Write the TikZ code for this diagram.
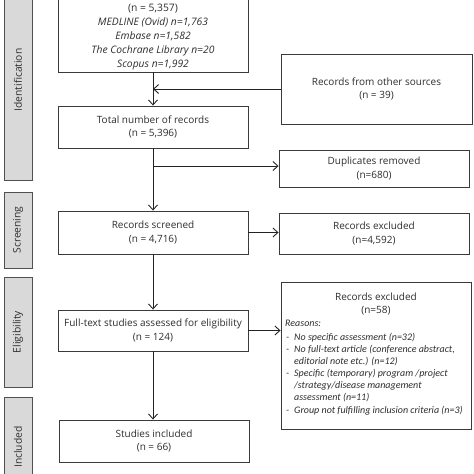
\documentclass[tikz,border=0pt]{standalone}
\usepackage{fontspec}
\setmainfont{Open Sans}
\newfontfamily\cfont{Carlito}
\usetikzlibrary{arrows.meta}
\definecolor{boxc}{HTML}{3A3A3A}
\definecolor{sidec}{HTML}{505050}
\definecolor{sidef}{HTML}{D9D9D9}
\definecolor{txtc}{HTML}{2E2E2E}
\definecolor{linec}{HTML}{222222}
\begin{document}
\begin{tikzpicture}[x=1pt,y=-1pt,
  box/.style={draw=boxc,line width=0.9pt,fill=white,inner sep=0pt,align=center,
    text=txtc,font=\fontsize{10}{13.5}\selectfont,minimum width=190pt},
  side/.style={draw=sidec,line width=1pt,fill=sidef,inner sep=0pt,rotate=90,
    minimum height=28pt,text=txtc,font=\fontsize{10.3}{12}\selectfont},
  lbl/.style={inner sep=0pt,text=txtc,font=\fontsize{10}{13.5}\selectfont},
  ilbl/.style={inner sep=0pt,text=txtc,font=\cfont\fontsize{10}{12}\selectfont\itshape,anchor=base west},
  arr/.style={draw=linec,line width=0.9pt,-{Straight Barb[length=5pt,width=9pt]}},
  ln/.style={draw=linec,line width=0.9pt}]
\useasboundingbox (0,0) rectangle (474,474);
% side labels
\node[side,minimum width=200pt] (sid) at (18,80) {Identification};
\node[side,minimum width=76pt] (sscr) at (18,230) {Screening};
\node[side,minimum width=110pt] (selig) at (18,332) {Eligibility};
\node[side,minimum width=100pt] (sinc) at (18,447) {Included};
% main boxes
\node[box,minimum height=92pt] (db) at (153,26) {};
\node[lbl,align=center,font=\fontsize{10.3}{14}\selectfont] (dbtext) at (153,37)
  {(n = 5,357)\\\textit{MEDLINE (Ovid) n=1,763}\\\textit{Embase n=1,582}\\\textit{The Cochrane Library n=20}\\\textit{Scopus n=1,992}};
\node[box,minimum width=191pt,minimum height=70pt] (other) at (376.5,89) {Records from other sources\\(n = 39)};
\node[box,minimum height=42pt] (total) at (153,127) {Total number of records\\(n = 5,396)};
\node[box,minimum height=37pt] (dup) at (374,168.5) {Duplicates removed\\(n=680)};
\node[box,minimum height=43pt] (screened) at (153,232.5) {Records screened\\(n = 4,716)};
\node[box,minimum height=41pt] (excl1) at (374,233.5) {Records excluded\\(n=4,592)};
\node[box,minimum height=41pt] (fulltext) at (153,330.5) {Full-text studies assessed for eligibility\\(n = 124)};
\node[box,minimum height=147pt] (excl2) at (376,355.5) {};
\node[box,minimum height=42pt] (included) at (154,441) {Studies included\\(n = 66)};
% excluded reasons text
\node[lbl] (e2t) at (376,297) {Records excluded};
\node[lbl] (e2n) at (376,311) {(n=58)};
\node[ilbl] (rs) at (285,326) {Reasons:};
\node[ilbl] (b1) at (286,340) {-};
\node[ilbl] (r1) at (294,340) {No specific assessment (n=32)};
\node[ilbl] (b2) at (286,352) {-};
\node[ilbl] (r2) at (294,352) {No full-text article (conference abstract,};
\node[ilbl] (r2b) at (294,364) {editorial note etc.) (n=12)};
\node[ilbl] (b3) at (286,376) {-};
\node[ilbl] (r3) at (294,376) {Specific (temporary) program /project};
\node[ilbl] (r3b) at (294,388) {/strategy/disease management};
\node[ilbl] (r3c) at (294,400) {assessment (n=11)};
\node[ilbl] (b4) at (286,413) {-};
\node[ilbl] (r4) at (294,413) {Group not fulfilling inclusion criteria (n=3)};
% connectors
\coordinate (jn) at (153,89);
\coordinate (br) at (153,166);
\draw[arr] (db.south) -- (total.north);
\draw[arr] (other.west) -- (jn);
\draw[arr] (total.south) -- (screened.north);
\draw[arr] (br) -- (br -| dup.west);
\draw[arr] (screened.east) -- (screened.east -| excl1.west);
\draw[arr] (screened.south) -- (fulltext.north);
\draw[arr] (fulltext.east) -- (fulltext.east -| excl2.west);
\draw[arr] (fulltext.south) -- (fulltext.south |- included.north);
\end{tikzpicture}
\end{document}
